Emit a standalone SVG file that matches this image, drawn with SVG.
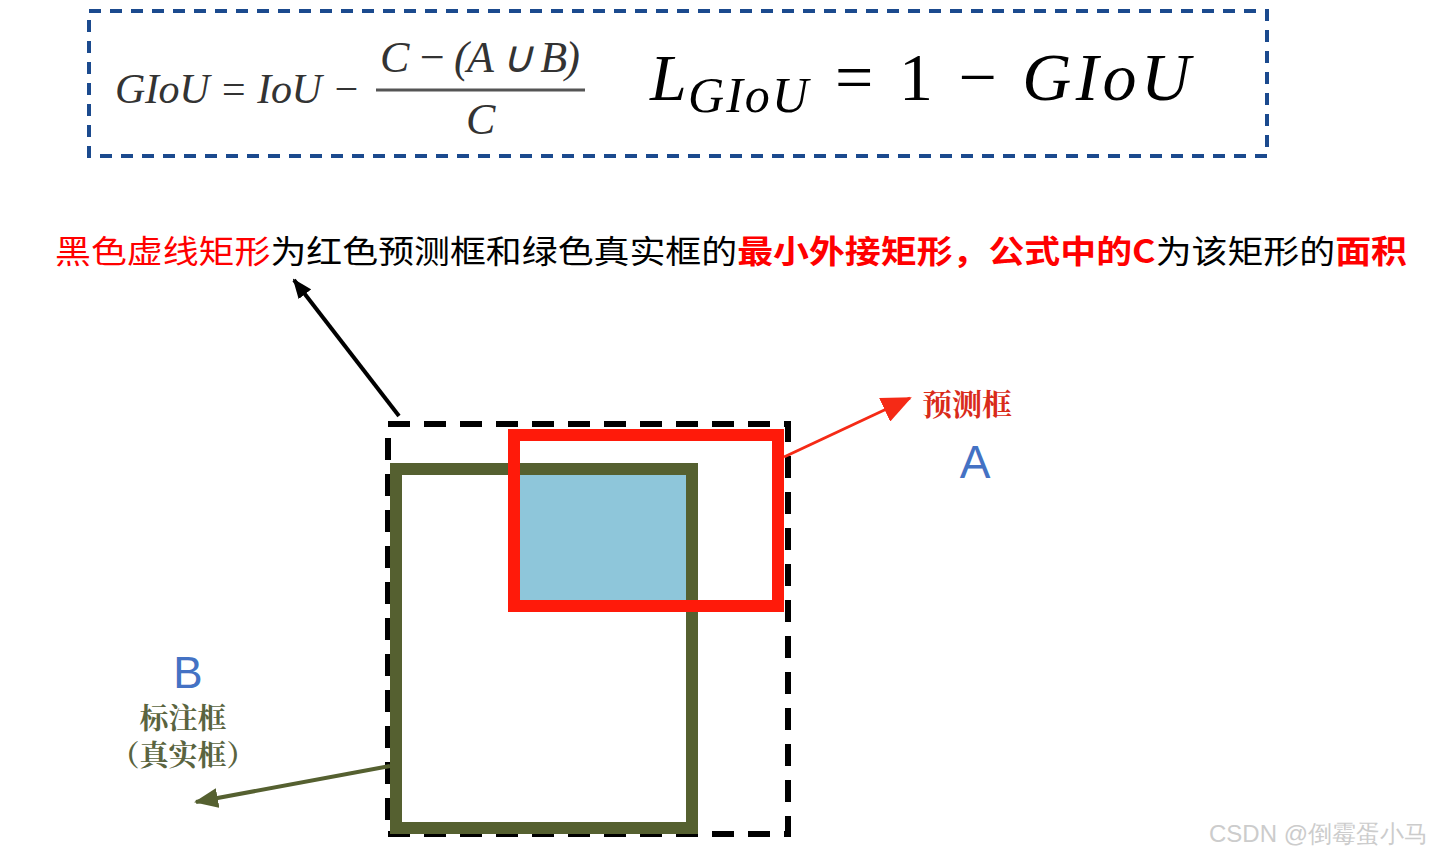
<svg xmlns="http://www.w3.org/2000/svg" width="1435" height="859" viewBox="0 0 1435 859">
<style>
.m{font-family:"Liberation Serif",serif;font-style:italic;fill:#333}
.c{font-family:"Noto Sans CJK SC",sans-serif;font-size:32px}
.s{font-family:"Noto Serif CJK SC","Noto Sans CJK SC",serif;font-weight:bold}
</style>
<defs>
<marker id="ak" markerWidth="20" markerHeight="16" refX="18" refY="8" orient="auto" markerUnits="userSpaceOnUse"><path d="M0,0L20,8L0,16z" fill="#000"/></marker>
<marker id="ar" markerWidth="30" markerHeight="26" refX="28" refY="13" orient="auto" markerUnits="userSpaceOnUse"><path d="M0,0L30,13L0,26z" fill="#f52a16"/></marker>
<marker id="ag" markerWidth="24" markerHeight="20" refX="22" refY="10" orient="auto" markerUnits="userSpaceOnUse"><path d="M0,0L24,10L0,20z" fill="#556030"/></marker>
</defs>
<rect width="1435" height="859" fill="#fff"/>
<g id="formula">
<rect x="89" y="11" width="1178" height="145" fill="none" stroke="#1b4a8e" stroke-width="4" stroke-dasharray="12 9"/>
<text class="m" x="115" y="103" font-size="42" textLength="245" lengthAdjust="spacing">GIoU = IoU −</text>
<text class="m" x="380" y="72" font-size="44" textLength="200">C − (A ∪ B)</text>
<line x1="376" y1="90" x2="585" y2="90" stroke="#555" stroke-width="3"/>
<text class="m" x="466" y="134" font-size="44">C</text>
<text x="650" y="100" font-family="Liberation Serif,serif" font-style="italic" font-size="66" fill="#000">L</text>
<text x="688" y="112" font-family="Liberation Serif,serif" font-style="italic" font-size="50" fill="#000" textLength="120">GIoU</text>
<text x="835" y="100" font-family="Liberation Serif,serif" font-size="68" fill="#000" textLength="355" lengthAdjust="spacing">= 1 − <tspan font-style="italic">GIoU</tspan></text>
</g>
<g id="caption">
<text class="c" x="55" y="263" textLength="1352" lengthAdjust="spacingAndGlyphs"><tspan fill="#f00">黑色虚线矩形</tspan><tspan fill="#000">为红色预测框和绿色真实框的</tspan><tspan fill="#f00" font-weight="bold">最小外接矩形，公式中的C</tspan><tspan fill="#000">为该矩形的</tspan><tspan fill="#f00" font-weight="bold">面积</tspan></text>
</g>
<g id="outer"><rect x="388" y="424" width="400" height="410" fill="none" stroke="#000" stroke-width="6" stroke-dasharray="22 14"/></g>
<g id="intersection"><rect x="520" y="474" width="168" height="127" fill="#8ec6da"/></g>
<g id="B"><rect x="396" y="469" width="296" height="359" fill="none" stroke="#556030" stroke-width="12"/>
<text x="188" y="688" font-family="Liberation Sans,sans-serif" font-size="44" fill="#4472c4" text-anchor="middle">B</text>
<text class="s" x="183" y="729" font-size="29" fill="#5a6440" text-anchor="middle">标注框</text>
<text class="s" x="183" y="766" font-size="29" fill="#5a6440" text-anchor="middle">（真实框）</text></g>
<g id="A"><rect x="514" y="435" width="264" height="171" fill="none" stroke="#ff1a0a" stroke-width="12"/>
<text class="s" x="922" y="415" font-size="30" fill="#d92b1a">预测框</text>
<text x="975" y="478" font-family="Liberation Sans,sans-serif" font-size="46" fill="#4472c4" text-anchor="middle">A</text></g>
<g id="connectors" fill="none">
<line x1="399" y1="416" x2="294" y2="280" stroke="#000" stroke-width="4" marker-end="url(#ak)"/>
<line x1="784" y1="457" x2="910" y2="398" stroke="#f52a16" stroke-width="3" marker-end="url(#ar)"/>
<line x1="390" y1="766" x2="196" y2="802" stroke="#556030" stroke-width="4" marker-end="url(#ag)"/>
</g>
<text x="1428" y="842" font-family="Liberation Sans,sans-serif" font-size="24" fill="#ccc" text-anchor="end">CSDN @倒霉蛋小马</text>
</svg>
